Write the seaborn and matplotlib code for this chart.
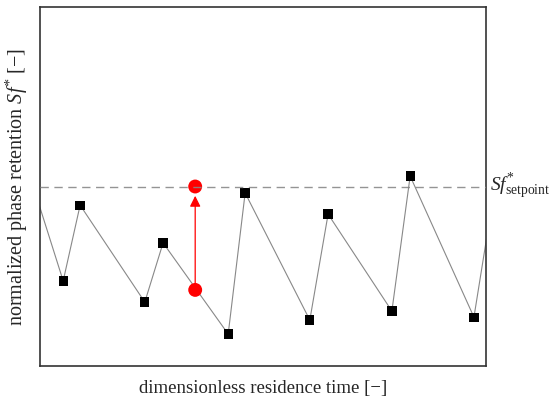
import numpy as np
import pandas as pd
import matplotlib
matplotlib.use("Agg")
import matplotlib.pyplot as plt
import seaborn as sns

# data (dimensionless units)
time_pts = [-0.2, 0.52, 0.90, 2.35, 2.76, 4.22, 4.60, 6.05, 6.46, 7.89, 8.30, 9.73, 10.2]
sf_pts = [0.52, 0.237, 0.448, 0.178, 0.343, 0.089, 0.482, 0.128, 0.423, 0.153, 0.529, 0.136, 0.50]
setpoint = 0.50
corr_time = 3.48
corr_before = 0.212
arrow_tip = 0.474

sns.set_style("white")
plt.rcParams["font.family"] = ["Liberation Serif", "DejaVu Serif"]
plt.rcParams["mathtext.fontset"] = "custom"
plt.rcParams["mathtext.rm"] = "Liberation Serif"
plt.rcParams["mathtext.it"] = "Liberation Serif:italic"

df = pd.DataFrame({"t": time_pts, "sf": sf_pts})

fig = plt.figure(figsize=(5.5, 4.07), dpi=100)
ax = fig.add_axes([0.0727, 0.1007, 0.8109, 0.8821])

sns.lineplot(data=df, x="t", y="sf", color="#888888", linewidth=0.8, ax=ax, zorder=2)
sns.scatterplot(data=df.iloc[1:-1], x="t", y="sf", marker="s", color="black",
                s=45, edgecolor="none", ax=ax, zorder=3)

# correction step (red)
ax.annotate("", xy=(corr_time, arrow_tip), xytext=(corr_time, corr_before),
            arrowprops=dict(arrowstyle="-|>", color="red", lw=0.9,
                            mutation_scale=16, shrinkA=0, shrinkB=0), zorder=4)
ax.scatter([corr_time, corr_time], [corr_before, setpoint], s=100, color="red",
           edgecolor="none", zorder=5)

ax.axhline(setpoint, color="#888888", linestyle=(0, (6, 4)), linewidth=1.0, zorder=6,
           alpha=0.9)
ax.text(10.08, setpoint, r"$Sf^{*}_{\mathrm{setpoint}}$", fontsize=14,
        va="center", ha="left", clip_on=False)

ax.set_xlim(0, 10)
ax.set_ylim(0, 1)
ax.set_xticks([])
ax.set_yticks([])
ax.set_xlabel("dimensionless residence time [\u2212]", fontsize=13.5, labelpad=10)
ax.set_ylabel("normalized phase retention $Sf^{*}$ [\u2212]", fontsize=14.5, labelpad=7)
for sp in ax.spines.values():
    sp.set_color("#333333")
    sp.set_linewidth(1.2)

fig.savefig("out.png", dpi=100)
